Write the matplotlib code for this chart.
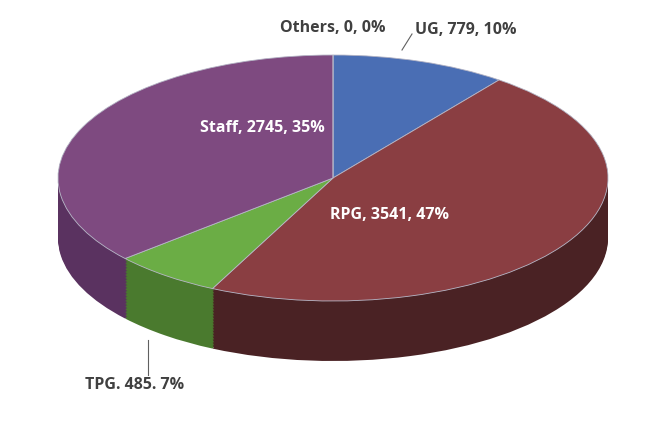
import matplotlib
matplotlib.use("Agg")
import matplotlib.pyplot as plt
import numpy as np

categories = ["UG", "RPG", "TPG", "Staff", "Others"]
values = [779, 3541, 485, 2745, 0]
labels = ["UG, 779, 10%", "RPG, 3541, 47%", "TPG. 485. 7%", "Staff, 2745, 35%", "Others, 0, 0%"]
top_colors = ["#4A6EB4", "#8A3E42", "#6BAD45", "#7E4A80", "#999999"]
side_colors = ["#2E4A80", "#4A2224", "#4A7A2E", "#5A3260", "#777777"]

W, H = 665, 430
fig = plt.figure(figsize=(6.65, 4.30), dpi=100)
ax = fig.add_axes([0, 0, 1, 1])
cx, cy, rx, ry, depth = 333, 178, 275, 123, 60

for k in np.linspace(depth / ry, 0.002, 40):
    ax.pie(values, colors=side_colors, startangle=90, counterclock=False,
           center=(0, -k), radius=1, wedgeprops=dict(linewidth=0))
ax.pie(values, colors=top_colors, startangle=90, counterclock=False,
       center=(0, 0), radius=1, wedgeprops=dict(linewidth=0.6, edgecolor="#b8b8c8"))
ax.set_aspect("auto")
ax.set_xlim(-cx / rx, (W - cx) / rx)
ax.set_ylim(-(H - cy) / ry, cy / ry)
ax.axis("off")

def px(x, y):
    return x / W, 1 - y / H

fs = 11.5
fam = ["Open Sans", "DejaVu Sans"]
fig.text(*px(333, 28), labels[4], ha="center", va="center", fontsize=fs, fontweight="bold", color="#404040", family=fam)
fig.text(*px(415, 30), labels[0], ha="left", va="center", fontsize=fs, fontweight="bold", color="#404040", family=fam)
fig.text(*px(262, 128), labels[3], ha="center", va="center", fontsize=fs, fontweight="bold", color="white", family=fam)
fig.text(*px(390, 215), labels[1], ha="center", va="center", fontsize=fs, fontweight="bold", color="white", family=fam)
fig.text(*px(85, 385), labels[2], ha="left", va="center", fontsize=fs, fontweight="bold", color="#404040", family=fam)
fig.add_artist(plt.Line2D([px(402, 0)[0], px(412, 0)[0]], [px(0, 50)[1], px(0, 34)[1]], color="#606060", lw=0.8))
fig.add_artist(plt.Line2D([px(148, 0)[0], px(148, 0)[0]], [px(0, 340)[1], px(0, 375)[1]], color="#606060", lw=0.8))

fig.savefig("out.png", dpi=100)
